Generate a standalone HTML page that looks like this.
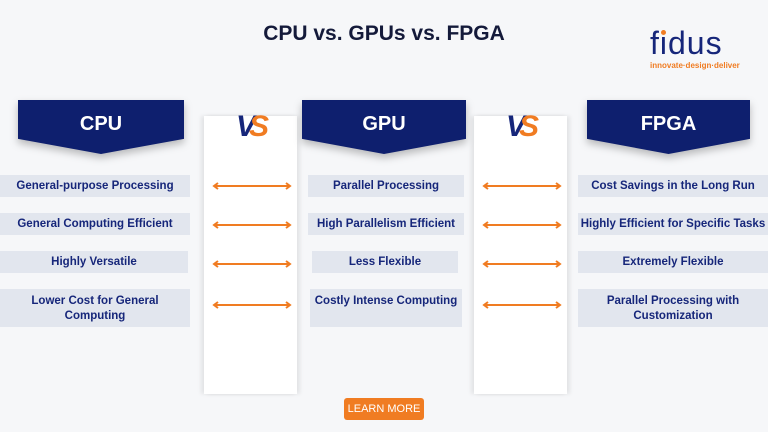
<!DOCTYPE html>
<html><head><meta charset="utf-8"><style>
body{margin:0;width:768px;height:432px;overflow:hidden;background:#f6f7f9;font-family:"Liberation Sans",sans-serif;position:relative}
.a{position:absolute}
.t{left:0;width:768px;top:22px;text-align:center;font-weight:bold;font-size:21px;color:#141a3a}
.strip{background:#fff;top:116px;height:278px;box-shadow:-3px 0 4px rgba(0,0,0,.08),3px 0 4px rgba(0,0,0,.08)}
.hd{height:54px;filter:drop-shadow(0 4px 4px rgba(0,0,0,.25))}
.hd div{width:100%;height:100%;background:#0e1f6e;clip-path:polygon(0 0,100% 0,100% 72%,50% 100%,0 72%);color:#fff;font-weight:bold;font-size:20px;text-align:center;line-height:48px}
.bx{background:#e2e6ee;color:#16267a;font-weight:bold;font-size:11.5px;text-align:center;display:flex;align-items:center;justify-content:center}
.bx2{align-items:flex-start;padding-top:5px;box-sizing:border-box;line-height:15px}
.vs{font-weight:bold;font-style:italic;font-size:30px;letter-spacing:-7px}
</style></head><body>
<div class="a t">CPU vs. GPUs vs. FPGA</div>
<div class="a" style="left:650px;top:25px;font-size:32px;color:#16267a;letter-spacing:1px">fidus</div>
<div class="a" style="left:661px;top:30px;width:5px;height:5px;border-radius:50%;background:#f07c22"></div>
<div class="a" style="left:650px;top:61px;font-size:8px;font-weight:bold;color:#f07c22">innovate·design·deliver</div>
<div class="a strip" style="left:204px;width:93px"></div>
<div class="a strip" style="left:474px;width:93px"></div>
<div class="a hd" style="left:18px;top:100px;width:166px"><div>CPU</div></div>
<div class="a hd" style="left:302px;top:100px;width:164px"><div>GPU</div></div>
<div class="a hd" style="left:587px;top:100px;width:163px"><div>FPGA</div></div>
<div class="a vs" style="left:236px;top:110px"><span style="color:#16267a">V</span><span style="color:#f07c22">S</span></div>
<div class="a vs" style="left:506px;top:110px"><span style="color:#16267a">V</span><span style="color:#f07c22">S</span></div>
<div class="a bx" style="left:0;top:175px;width:190px;height:22px">General-purpose Processing</div>
<div class="a bx" style="left:0;top:213px;width:190px;height:22px">General Computing Efficient</div>
<div class="a bx" style="left:0;top:251px;width:188px;height:22px">Highly Versatile</div>
<div class="a bx bx2" style="left:0;top:289px;width:190px;height:38px">Lower Cost for General<br>Computing</div>
<div class="a bx" style="left:308px;top:175px;width:156px;height:22px">Parallel Processing</div>
<div class="a bx" style="left:308px;top:213px;width:156px;height:22px">High Parallelism Efficient</div>
<div class="a bx" style="left:312px;top:251px;width:146px;height:22px">Less Flexible</div>
<div class="a bx bx2" style="left:310px;top:289px;width:152px;height:38px">Costly Intense Computing</div>
<div class="a bx" style="left:578px;top:175px;width:190px;height:22px">Cost Savings in the Long Run</div>
<div class="a bx" style="left:578px;top:213px;width:190px;height:22px">Highly Efficient for Specific Tasks</div>
<div class="a bx" style="left:578px;top:251px;width:190px;height:22px">Extremely Flexible</div>
<div class="a bx bx2" style="left:578px;top:289px;width:190px;height:38px">Parallel Processing with<br>Customization</div>
<svg class="a" style="left:0;top:0" width="768" height="432">
<defs><g id="ar" stroke="#f07c22" stroke-width="2" fill="none"><line x1="0" y1="0" x2="76" y2="0"/><polyline points="4,-3 0,0 4,3"/><polyline points="72,-3 76,0 72,3"/></g></defs>
<use href="#ar" x="214" y="186"/><use href="#ar" x="214" y="225"/><use href="#ar" x="214" y="264"/><use href="#ar" x="214" y="305"/>
<use href="#ar" x="484" y="186"/><use href="#ar" x="484" y="225"/><use href="#ar" x="484" y="264"/><use href="#ar" x="484" y="305"/>
</svg>
<div class="a" style="left:344px;top:398px;width:80px;height:22px;background:#f07c22;border-radius:3px;color:#fff;font-size:11px;text-align:center;line-height:22px">LEARN MORE</div>
</body></html>
